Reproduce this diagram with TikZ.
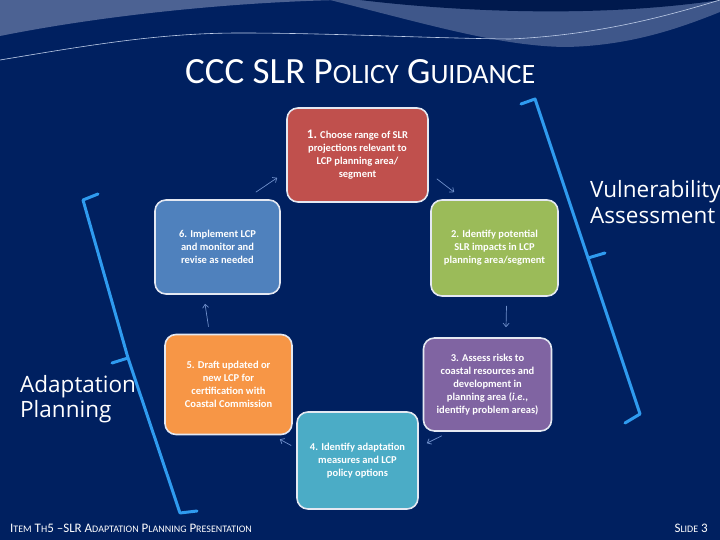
\documentclass[tikz,border=0pt]{standalone}
\usepackage{fontspec}
\setmainfont{Carlito}
\newfontfamily\sidefont{Open Sans}
\usetikzlibrary{arrows.meta}

\definecolor{slidebg}{HTML}{002060}
\definecolor{swoosh}{HTML}{5A6E9C}
\definecolor{boxrim}{HTML}{E4E8F2}
\definecolor{flowcol}{HTML}{6F8FCB}
\definecolor{bracecol}{HTML}{2F9BEF}
\definecolor{boxred}{HTML}{C0504D}
\definecolor{boxgreen}{HTML}{9BBB59}
\definecolor{boxpurple}{HTML}{8064A2}
\definecolor{boxteal}{HTML}{4BACC6}
\definecolor{boxorange}{HTML}{F79646}
\definecolor{boxblue}{HTML}{4F81BD}

\newcommand{\titlesc}[1]{{\fontsize{28}{28}\selectfont #1}}
\newcommand{\footsc}[1]{{\fontsize{10}{10}\selectfont #1}}

\begin{document}
\begin{tikzpicture}[x=1pt,y=-1pt,
	box/.style={rounded corners=11pt,draw=boxrim,line width=1.6pt,text=white,align=center,
		inner sep=0pt,font=\bfseries\fontsize{10.5}{13}\selectfont},
	flow/.style={draw=flowcol,line width=0.7pt,-{Straight Barb[length=3.5pt,width=6pt]}},
	brace/.style={draw=bracecol,line width=3pt,line join=round,line cap=round},
	side/.style={text=white,anchor=base west,inner sep=0pt,font=\sidefont\fontsize{22.5}{25}\selectfont}]
	\useasboundingbox (0,0) rectangle (720,540);
	\fill[slidebg] (0,0) rectangle (720,540);
	% top swooshes
	\fill[swoosh!85!slidebg] (0,0) -- (0,36) .. controls (110,14) and (240,2) .. (340,0) -- cycle;
	\fill[swoosh!70!slidebg] (330,0) .. controls (430,25) and (500,46) .. (565,47)
		.. controls (630,46) and (680,28) .. (720,12) -- (720,0) -- cycle;
	\fill[slidebg!80!black] (360,0) .. controls (460,12) and (600,18) .. (720,0) -- cycle;
	\draw[white!55!flowcol,line width=0.6pt] (0,60) .. controls (90,45) and (160,33) .. (240,33)
		.. controls (330,33) and (420,38) .. (510,39) .. controls (600,35) and (670,15) .. (720,0);
	% title
	\node[text=white,anchor=base west,inner sep=0pt] (title) at (185,84)
		{\fontsize{37}{37}\selectfont CCC SLR P\titlesc{OLICY} G\titlesc{UIDANCE}};
	% steps
	\node[box,fill=boxred,minimum width=141pt,minimum height=94pt] (b1) at (357.5,155)
		{{\fontsize{13}{13}\selectfont 1.} Choose range of SLR\\projections relevant to\\LCP planning area/\\segment};
	\node[box,fill=boxgreen,minimum width=127pt,minimum height=96pt] (b2) at (494.5,248)
		{2. Identify potential\\SLR impacts in LCP\\planning area/segment};
	\node[box,fill=boxpurple,minimum width=128pt,minimum height=93pt] (b3) at (487.5,384.5)
		{3. Assess risks to\\coastal resources and\\development in\\planning area (\textit{i.e.},\\identify problem areas)};
	\node[box,fill=boxteal,minimum width=121pt,minimum height=97pt] (b4) at (357.5,460.5)
		{4. Identify adaptation\\measures and LCP\\policy options};
	\node[box,fill=boxorange,minimum width=127pt,minimum height=100pt] (b5) at (228.5,384.5)
		{5. Draft updated or\\new LCP for\\certification with\\Coastal Commission};
	\node[box,fill=boxblue,minimum width=125pt,minimum height=94pt] (b6) at (217.5,247)
		{6. Implement LCP\\and monitor and\\revise as needed};
	% cycle arrows
	\draw[flow] ([xshift=-25pt,yshift=7pt]b6.north east) -- ([xshift=-9pt,yshift=25pt]b1.south west);
	\draw[flow] ([xshift=8pt,yshift=24pt]b1.south east) -- ([xshift=24pt,yshift=7pt]b2.north west);
	\draw[flow] ([xshift=12pt,yshift=-9pt]b2.south) -- ([xshift=18.5pt,yshift=10pt]b3.north);
	\draw[flow] ([xshift=19pt,yshift=-4pt]b3.south west) -- ([xshift=8pt,yshift=-32pt]b4.north east);
	\draw[flow] ([xshift=-5pt,yshift=15pt]b4.west) -- ([xshift=-13pt,yshift=-4pt]b5.south east);
	\draw[flow] ([xshift=-20pt,yshift=7pt]b5.north) -- ([xshift=-12.5pt,yshift=-9pt]b6.south);
	% brackets
	\draw[brace] (521,104) -- (535,99) -- (588,258) -- (605,253);
	\draw[brace] (588,258) -- (640,414) -- (625,423);
	\draw[brace] (98,194) -- (83,200) -- (128,358) -- (112,363);
	\draw[brace] (128,358) -- (180,513) -- (197,511);
	\node[side] (vuln) at (590,197) {Vulnerability};
	\node[side] (assess) at (590,224) {Assessment};
	\node[side] (adapt) at (20,392) {Adaptation};
	\node[side] (plan) at (20,417) {Planning};
	% footer
	\node[text=white,anchor=base west,inner sep=0pt] (foot) at (10,532)
		{\fontsize{13}{13}\selectfont I\footsc{TEM} T\footsc{H}5 –SLR A\footsc{DAPTATION} P\footsc{LANNING} P\footsc{RESENTATION}};
	\node[text=white,anchor=base east,inner sep=0pt] (slide) at (708,532)
		{\fontsize{13}{13}\selectfont S\footsc{LIDE} 3};
\end{tikzpicture}
\end{document}
